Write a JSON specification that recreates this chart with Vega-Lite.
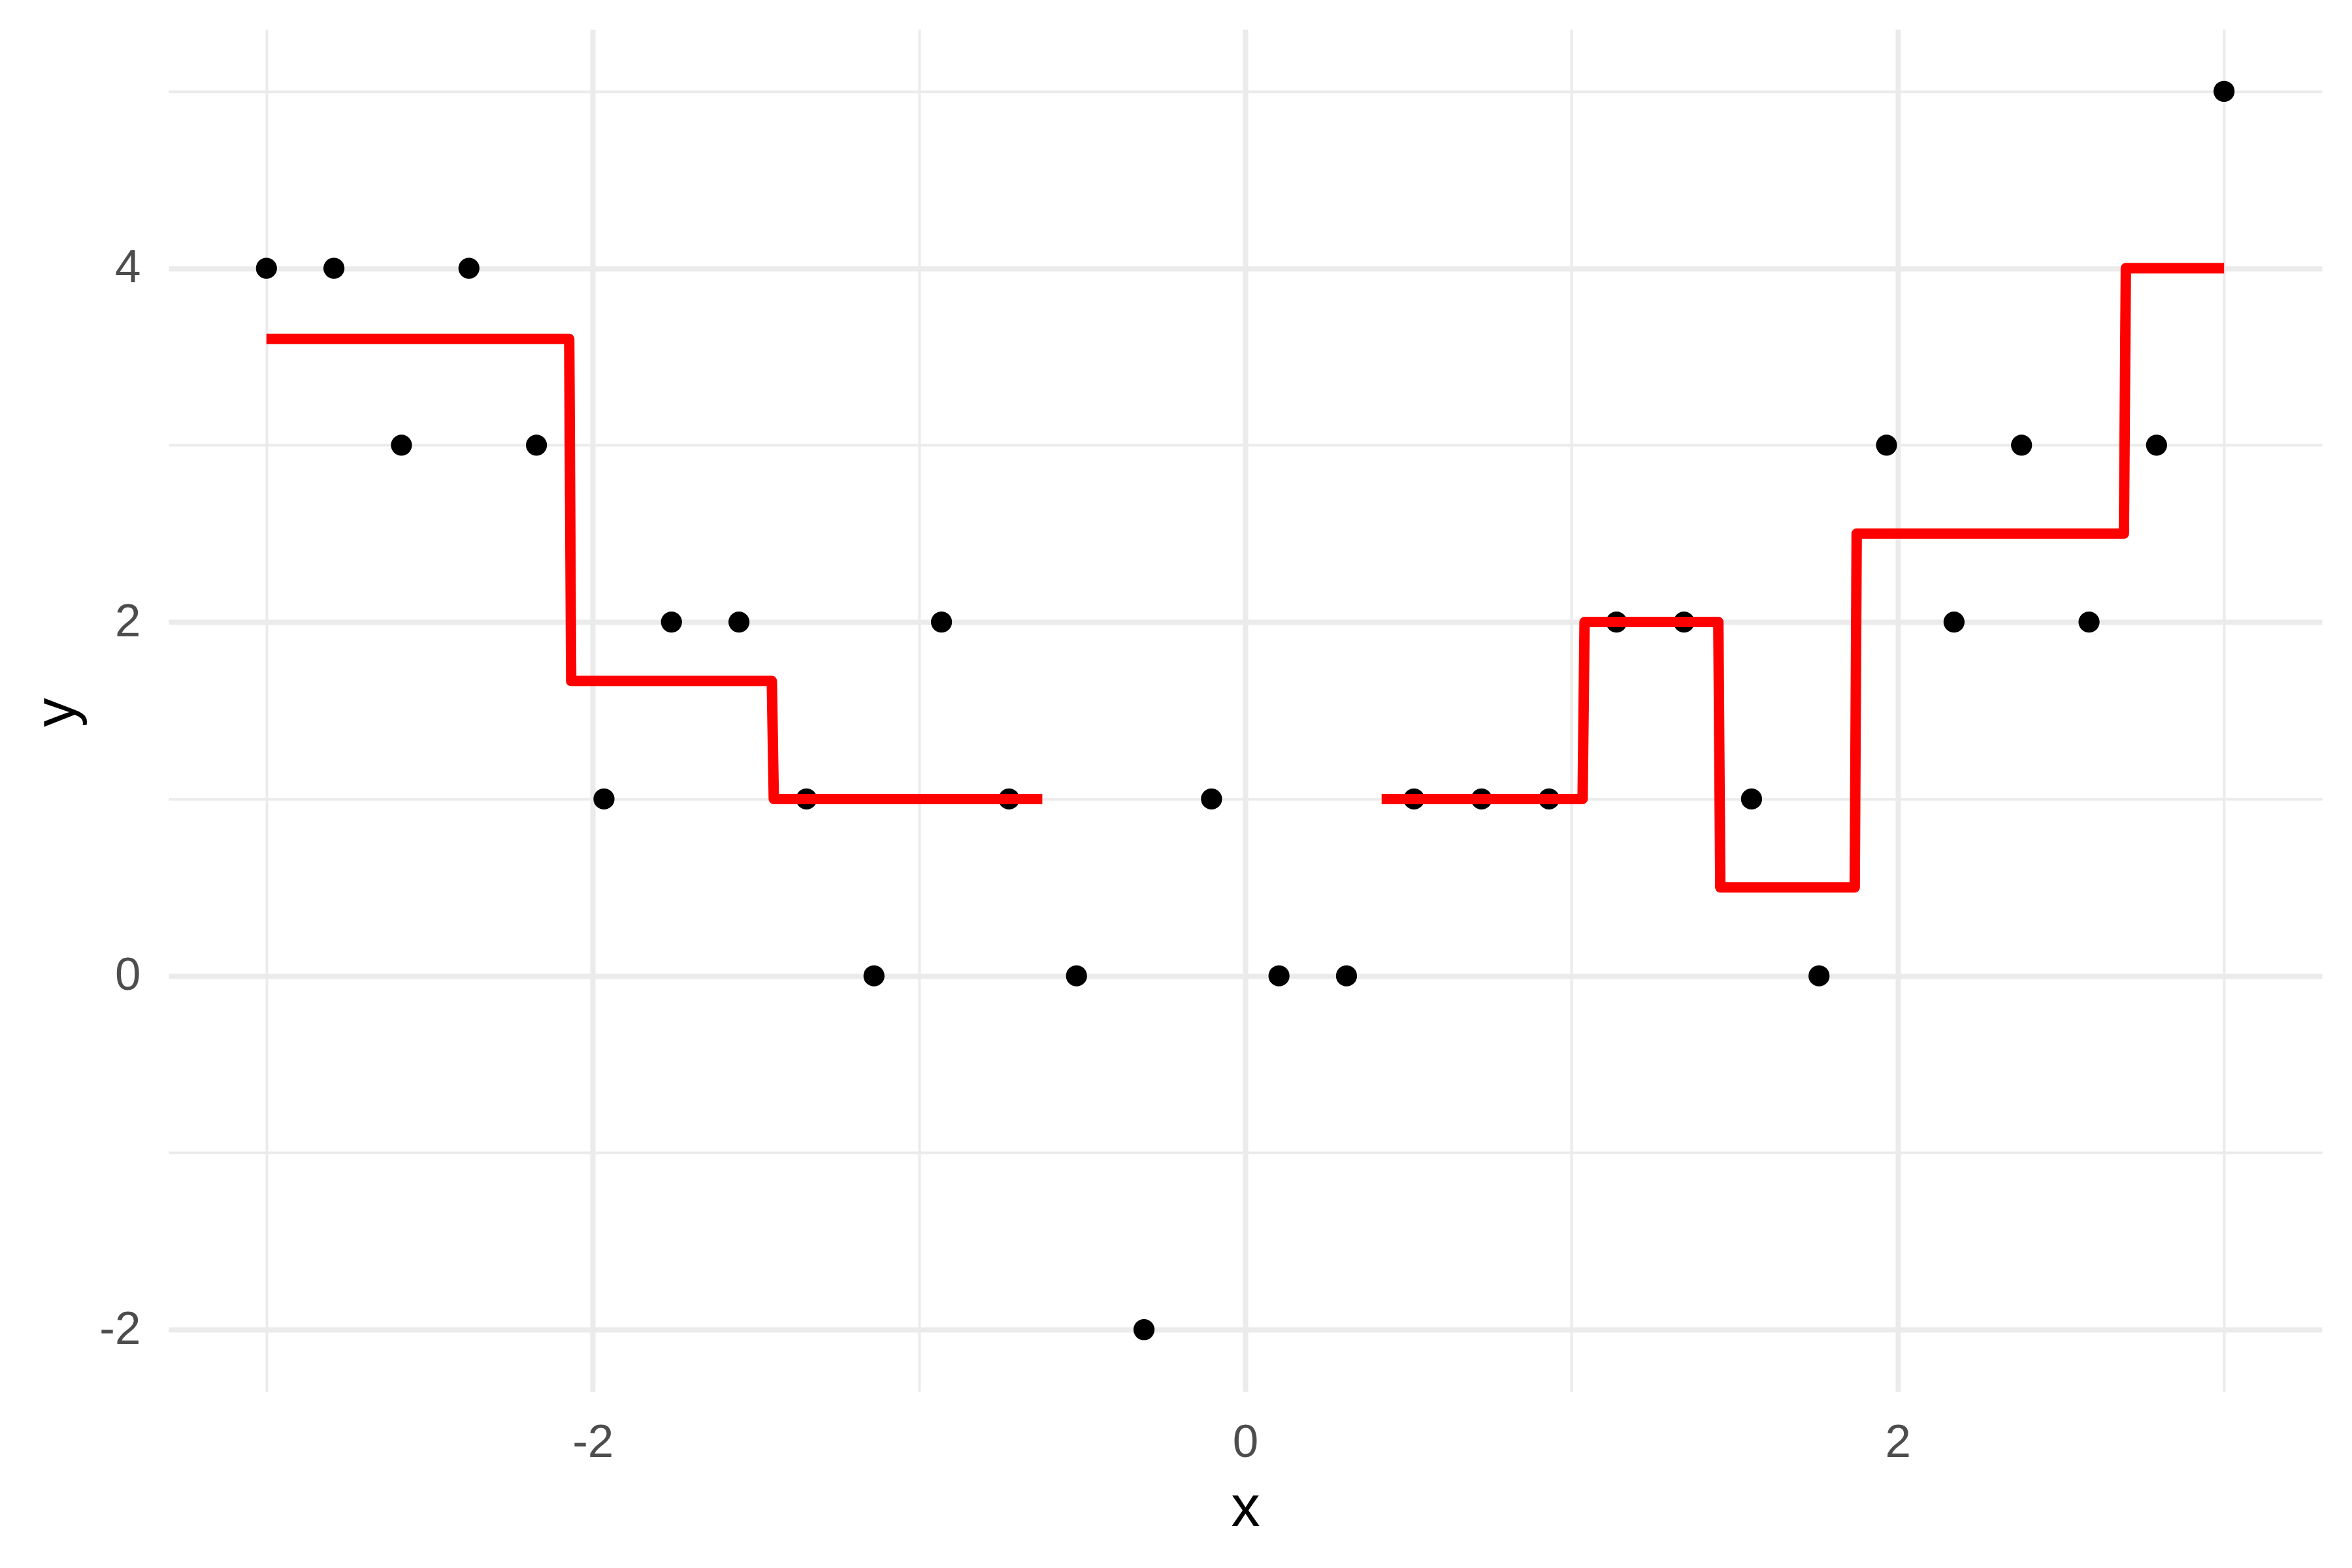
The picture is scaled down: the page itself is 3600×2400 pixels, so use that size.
{
  "$schema": "https://vega.github.io/schema/vega-lite/v6.json",
  "autosize": {"type": "none"},
  "width": 3296,
  "height": 2085,
  "padding": {"left": 258, "top": 45, "right": 46, "bottom": 270},
  "background": "white",
  "config": {
    "view": {"stroke": null},
    "font": "Liberation Sans"
  },
  "datasets": {
    "pts": [
      {"x": -3, "y": 4}, {"x": -2.7931, "y": 4}, {"x": -2.5862, "y": 3}, {"x": -2.3793, "y": 4},
      {"x": -2.1724, "y": 3}, {"x": -1.9655, "y": 1}, {"x": -1.7586, "y": 2}, {"x": -1.5517, "y": 2},
      {"x": -1.3448, "y": 1}, {"x": -1.1379, "y": 0}, {"x": -0.931, "y": 2}, {"x": -0.7241, "y": 1},
      {"x": -0.5172, "y": 0}, {"x": -0.3103, "y": -2}, {"x": -0.1034, "y": 1}, {"x": 0.1034, "y": 0},
      {"x": 0.3103, "y": 0}, {"x": 0.5172, "y": 1}, {"x": 0.7241, "y": 1}, {"x": 0.931, "y": 1},
      {"x": 1.1379, "y": 2}, {"x": 1.3448, "y": 2}, {"x": 1.5517, "y": 1}, {"x": 1.7586, "y": 0},
      {"x": 1.9655, "y": 3}, {"x": 2.1724, "y": 2}, {"x": 2.3793, "y": 3}, {"x": 2.5862, "y": 2},
      {"x": 2.7931, "y": 3}, {"x": 3, "y": 5}
    ],
    "fit": [
      {"seg": "a", "x": -3, "y": 3.6},
      {"seg": "a", "x": -2.072, "y": 3.6},
      {"seg": "a", "x": -2.066, "y": 1.6667},
      {"seg": "a", "x": -1.451, "y": 1.6667},
      {"seg": "a", "x": -1.445, "y": 1},
      {"seg": "a", "x": -0.622, "y": 1},
      {"seg": "b", "x": 0.418, "y": 1},
      {"seg": "b", "x": 1.034, "y": 1},
      {"seg": "b", "x": 1.040, "y": 2},
      {"seg": "b", "x": 1.450, "y": 2},
      {"seg": "b", "x": 1.456, "y": 0.5},
      {"seg": "b", "x": 1.868, "y": 0.5},
      {"seg": "b", "x": 1.874, "y": 2.5},
      {"seg": "b", "x": 2.693, "y": 2.5},
      {"seg": "b", "x": 2.699, "y": 4},
      {"seg": "b", "x": 3, "y": 4}
    ]
  },
  "layer": [
    {
      "data": {"name": "pts"},
      "mark": {"type": "point", "filled": true, "color": "black", "opacity": 1, "size": 1040, "shape": "circle"},
      "encoding": {
        "x": {
          "field": "x", "type": "quantitative",
          "scale": {"domain": [-3.3, 3.3], "nice": false, "zero": false},
          "axis": {
            "orient": "bottom", "values": [-2, 0, 2], "grid": true, "gridColor": "#EBEBEB", "gridWidth": 8,
            "domain": false, "ticks": false, "tickSize": 0, "labelPadding": 43,
            "labelExpr": "'' + datum.value",
            "labelFontSize": 71, "labelColor": "#4D4D4D", "labelFont": "Liberation Sans",
            "title": "x", "titleFontSize": 89, "titleFontWeight": "normal", "titleColor": "black",
            "titleFont": "Liberation Sans", "titleBaseline": "alphabetic", "titleY": 205
          }
        },
        "y": {
          "field": "y", "type": "quantitative",
          "scale": {"domain": [-2.35, 5.35], "nice": false, "zero": false},
          "axis": {
            "orient": "left", "values": [-2, 0, 2, 4], "grid": true, "gridColor": "#EBEBEB", "gridWidth": 8,
            "domain": false, "ticks": false, "tickSize": 0, "labelPadding": 43,
            "labelExpr": "'' + datum.value",
            "labelFontSize": 71, "labelColor": "#4D4D4D", "labelFont": "Liberation Sans",
            "title": "y", "titleFontSize": 89, "titleFontWeight": "normal", "titleColor": "black",
            "titleFont": "Liberation Sans", "titleBaseline": "alphabetic", "titleAngle": 270,
            "titleX": -145, "titleY": 1045
          }
        }
      }
    },
    {
      "data": {"name": "fit"},
      "mark": {"type": "line", "color": "#FF0000", "strokeWidth": 16, "strokeJoin": "round", "strokeCap": "butt"},
      "encoding": {
        "x": {
          "field": "x", "type": "quantitative",
          "axis": {
            "orient": "top", "values": [-3, -1, 1, 3], "grid": true, "gridColor": "#EBEBEB", "gridWidth": 4,
            "domain": false, "ticks": false, "labels": false, "title": null
          }
        },
        "y": {
          "field": "y", "type": "quantitative",
          "axis": {
            "orient": "right", "values": [-1, 1, 3, 5], "grid": true, "gridColor": "#EBEBEB", "gridWidth": 4,
            "domain": false, "ticks": false, "labels": false, "title": null
          }
        },
        "detail": {"field": "seg", "type": "nominal"}
      }
    }
  ],
  "resolve": {"axis": {"x": "independent", "y": "independent"}}
}
